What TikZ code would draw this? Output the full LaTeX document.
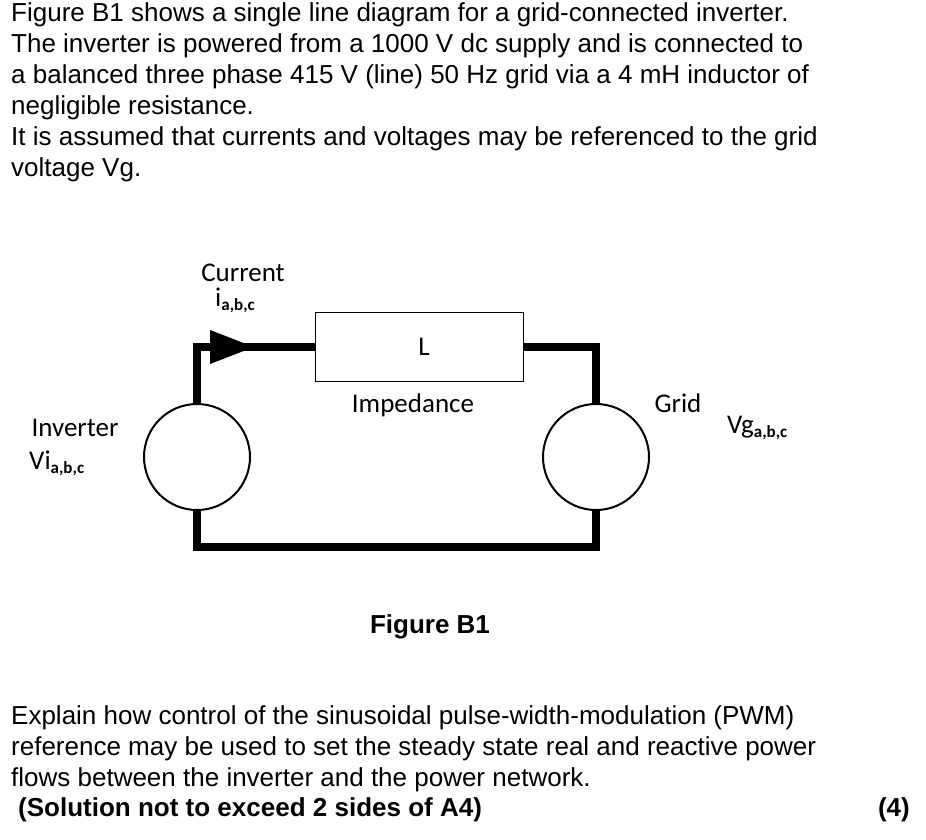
\documentclass[tikz,border=0pt]{standalone}
\usepackage{fontspec}
\setmainfont{Liberation Sans}
\newfontfamily\carlitofont{Carlito}
\newcommand{\mysub}[1]{\raisebox{-4pt}{\fontsize{17}{18}\selectfont\bfseries #1}}
\begin{document}
\begin{tikzpicture}[x=1pt,y=-1pt,
  body/.style={anchor=west,font=\fontsize{26}{28}\selectfont,inner sep=0pt},
  lab/.style={font=\carlitofont\fontsize{27}{29}\selectfont,inner sep=0pt},
  wire/.style={line width=8pt,line join=miter},
  src/.style={circle,draw,line width=2pt,minimum size=106pt,inner sep=0pt}]
\useasboundingbox (0,0) rectangle (926,839);
\foreach \t [count=\i] in {Figure B1 shows a single line diagram for a grid-connected inverter.,
 The inverter is powered from a 1000 V dc supply and is connected to,
 a balanced three phase 415 V (line) 50 Hz grid via a 4 mH inductor of,
 negligible resistance.,
 It is assumed that currents and voltages may be referenced to the grid,
 voltage Vg.}
  \node[body] (t\i) at (11,{15+(\i-1)*31}) {\t};
\node[src] (vi) at (197,457) {};
\node[src] (vg) at (596,457) {};
\node[draw,line width=1pt,minimum width=208pt,minimum height=69pt,inner sep=0pt] (L) at (419,347) {};
\node[lab] (Lt) at (424,347) {L};
\coordinate (c1) at (197,347);
\coordinate (c2) at (596,347);
\coordinate (c3) at (197,547);
\coordinate (c4) at (596,547);
\draw[wire] (vi.north) -- (c1) -- (L.west);
\draw[wire] (L.east) -- (c2) -- (vg.north);
\draw[wire] (vi.south) -- (c3) -- (c4) -- (vg.south);
\coordinate (a1) at (210,330);
\coordinate (a2) at (210,364);
\coordinate (a3) at (254,347);
\fill (a1) -- (a2) -- (a3) -- cycle;
\node[lab] (cur) at (243,273) {Current};
\node[lab,anchor=west] (iabc) at (215,300) {i\mysub{a,b,c}};
\node[lab] (imp) at (413,405) {Impedance};
\node[lab] (grid) at (678,403) {Grid};
\node[lab,anchor=west] (vgl) at (727,428) {Vg\mysub{a,b,c}};
\node[lab] (inv) at (75,428) {Inverter};
\node[lab,anchor=west] (vil) at (29,463) {Vi\mysub{a,b,c}};
\node[body,anchor=center,font=\bfseries\fontsize{26}{28}\selectfont] (fig) at (430,627) {Figure B1};
\foreach \t [count=\i] in {Explain how control of the sinusoidal pulse-width-modulation (PWM),
 reference may be used to set the steady state real and reactive power,
 flows between the inverter and the power network.}
  \node[body] (b\i) at (11,{718+(\i-1)*31}) {\t};
\node[body,font=\bfseries\fontsize{26}{28}\selectfont] (b4) at (18,810) {(Solution not to exceed 2 sides of A4)};
\node[body,anchor=east,font=\bfseries\fontsize{26}{28}\selectfont] (mk) at (910,810) {(4)};
\end{tikzpicture}
\end{document}
